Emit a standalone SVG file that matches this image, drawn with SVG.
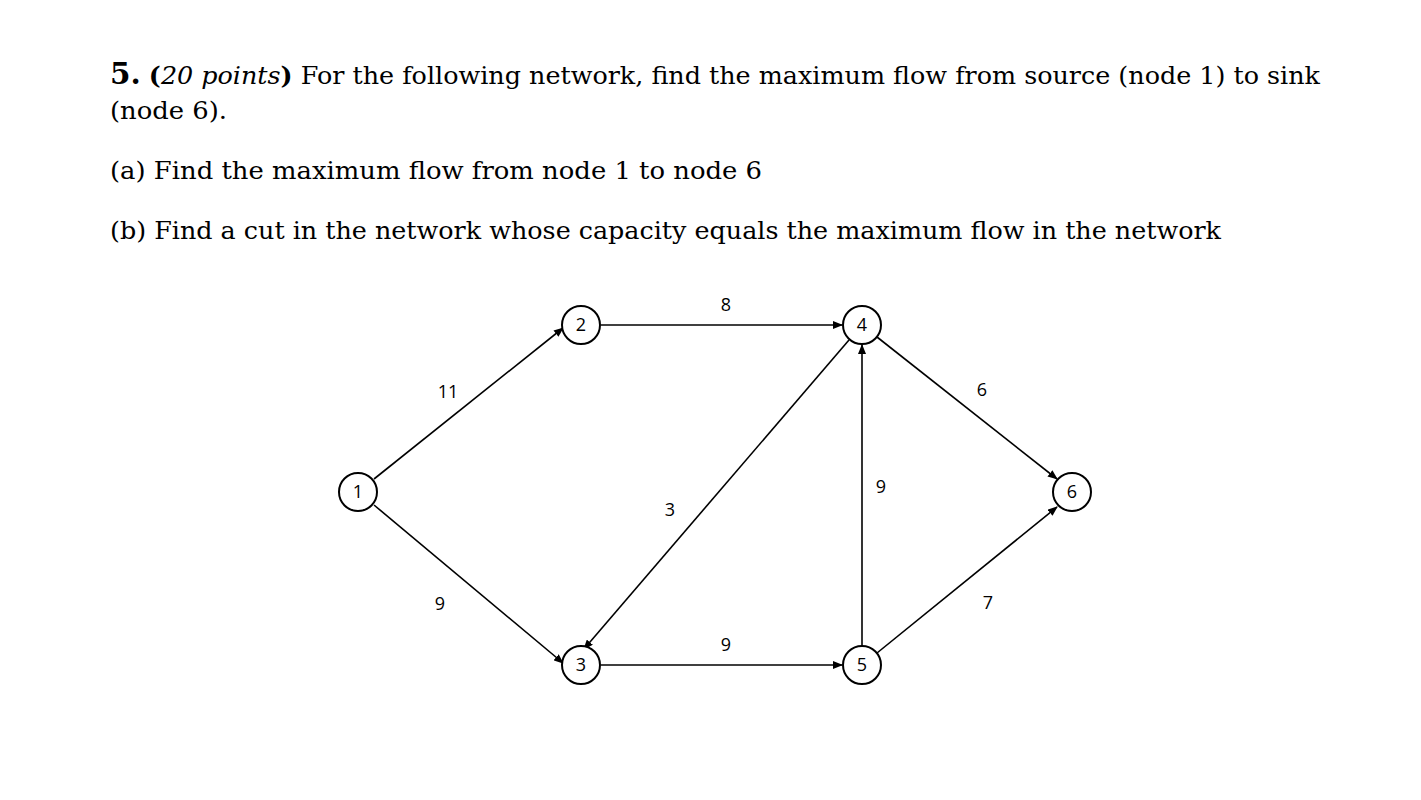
<svg xmlns="http://www.w3.org/2000/svg" width="1421" height="800" viewBox="0 0 1421 800">
<style>
.t{font-family:"DejaVu Serif","Liberation Serif",serif;font-size:25px;fill:#000}
.n circle{fill:#fff;stroke:#000;stroke-width:2}
.n text,.l{font-family:"Open Sans","Liberation Sans",sans-serif;font-size:18px;fill:#000;text-anchor:middle}
.e line{stroke:#000;stroke-width:1.6;marker-end:url(#a)}
</style>
<defs><marker id="a" markerWidth="10" markerHeight="8" refX="9" refY="4" orient="auto" markerUnits="userSpaceOnUse"><path d="M0,0 L10,4 L0,8 z" fill="#000"/></marker></defs>
<rect width="1421" height="800" fill="#fff"/>
<text class="t" x="110" y="84" textLength="1210" lengthAdjust="spacingAndGlyphs"><tspan font-weight="bold" font-size="29">5.</tspan>  <tspan font-weight="bold">(</tspan><tspan font-style="italic">20 points</tspan><tspan font-weight="bold">)</tspan>  For the following network, find the maximum flow from source (node 1) to sink</text>
<text class="t" x="110" y="119" textLength="117" lengthAdjust="spacingAndGlyphs">(node 6).</text>
<text class="t" x="110" y="179" textLength="652" lengthAdjust="spacingAndGlyphs">(a)  Find the maximum flow from node 1 to node 6</text>
<text class="t" x="110" y="239" textLength="1111" lengthAdjust="spacingAndGlyphs">(b)  Find a cut in the network whose capacity equals the maximum flow in the network</text>
<g id="edges" class="e">
<line x1="374" y1="479" x2="563" y2="328"/>
<line x1="374" y1="505" x2="563" y2="663"/>
<line x1="601" y1="325" x2="842" y2="325"/>
<line x1="601" y1="665" x2="842" y2="665"/>
<line x1="849" y1="340" x2="584" y2="649"/>
<line x1="862" y1="646" x2="862" y2="345"/>
<line x1="877" y1="337" x2="1057" y2="479"/>
<line x1="877" y1="653" x2="1057" y2="507"/>
</g>
<g class="l">
<text x="448" y="398">11</text>
<text x="440" y="610">9</text>
<text x="726" y="311">8</text>
<text x="670" y="516">3</text>
<text x="726" y="651">9</text>
<text x="881" y="493">9</text>
<text x="982" y="396">6</text>
<text x="988" y="609">7</text>
</g>
<g id="n1" class="n"><circle cx="358" cy="492" r="19"/><text x="358" y="498">1</text></g>
<g id="n2" class="n"><circle cx="581" cy="325" r="19"/><text x="581" y="331">2</text></g>
<g id="n3" class="n"><circle cx="581" cy="665" r="19"/><text x="581" y="671">3</text></g>
<g id="n4" class="n"><circle cx="862" cy="325" r="19"/><text x="862" y="331">4</text></g>
<g id="n5" class="n"><circle cx="862" cy="665" r="19"/><text x="862" y="671">5</text></g>
<g id="n6" class="n"><circle cx="1072" cy="492" r="19"/><text x="1072" y="498">6</text></g>
</svg>
